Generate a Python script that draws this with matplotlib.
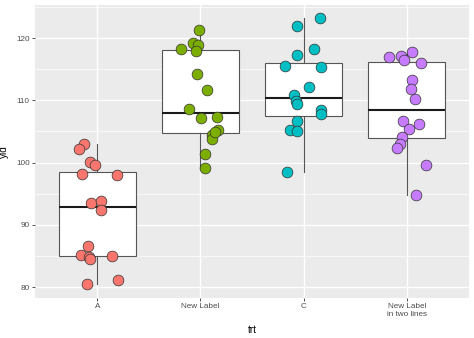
import matplotlib
matplotlib.use("Agg")
import matplotlib.pyplot as plt
from matplotlib.ticker import MultipleLocator

categories = ["A", "New Label", "C", "New Label\nin two lines"]
colors = ["#F8766D", "#7CAE00", "#00BFC4", "#C77CFF"]

yld_a = [102.99, 102.23, 100.1, 99.6, 98.1, 98.06, 93.56, 93.83, 92.33, 86.66,
         85.1, 84.9, 84.5, 84.94, 81.16, 80.45]
jit_a = [-0.126, -0.174, -0.07, -0.022, -0.148, 0.191, -0.058, 0.033, 0.033, -0.087,
         -0.161, -0.077, -0.07, 0.142, 0.2, -0.097]

yld_b = [121.33, 119.2, 118.92, 118.28, 118.0, 114.22, 111.65, 108.65, 107.2, 107.37,
         105.28, 104.37, 103.84, 101.43, 99.13, 104.9]
jit_b = [-0.016, -0.072, -0.019, -0.184, -0.039, -0.033, 0.064, -0.107, 0.01, 0.161,
         0.174, 0.116, 0.109, 0.045, 0.045, 0.14]

yld_c = [123.21, 121.97, 118.28, 117.27, 115.55, 115.28, 112.18, 110.9, 109.82, 109.34,
         108.44, 107.85, 106.68, 105.23, 105.12, 98.43]
jit_c = [0.162, -0.061, 0.097, -0.061, -0.184, 0.165, 0.052, -0.09, -0.074, -0.061,
         0.168, 0.165, -0.061, -0.129, -0.061, -0.161]

yld_d = [117.0, 117.05, 116.52, 117.8, 116.04, 113.26, 111.81, 110.2, 106.73, 106.13,
         105.44, 104.16, 103.03, 102.28, 99.66, 94.74]
jit_d = [-0.172, -0.052, -0.029, 0.051, 0.141, 0.051, 0.045, 0.083, -0.039, 0.122,
         0.019, -0.046, -0.062, -0.094, 0.19, 0.09]

yld = [yld_a, yld_b, yld_c, yld_d]
jit = [jit_a, jit_b, jit_c, jit_d]

plt.rcParams['font.family'] = ['Liberation Sans', 'DejaVu Sans']

fig = plt.figure(figsize=(4.74, 3.38), dpi=100)
ax = fig.add_axes([0.0747, 0.1192, 0.9139, 0.8658])
ax.set_facecolor("#EBEBEB")
for s in ax.spines.values():
    s.set_visible(False)

pos = list(range(1, len(categories) + 1))
ax.boxplot(yld, positions=pos, widths=0.75, showcaps=False, showfliers=False,
           patch_artist=True, whis=1.5,
           boxprops=dict(facecolor="white", edgecolor="#555555", linewidth=0.8),
           whiskerprops=dict(color="#555555", linewidth=0.8),
           medianprops=dict(color="#1A1A1A", linewidth=1.5),
           zorder=2)

for i, (vals, js, col) in enumerate(zip(yld, jit, colors)):
    xs = [pos[i] + j for j in js]
    ax.scatter(xs, vals, s=60, c=col, edgecolors="#333333", linewidths=0.5, zorder=3)

ax.set_xlim(0.4, 4.6)
ax.set_ylim(78.3, 125.3)
ax.set_xticks(pos)
ax.set_xticklabels(categories, ha="center", multialignment="center")
ax.yaxis.set_major_locator(MultipleLocator(10))
ax.yaxis.set_minor_locator(MultipleLocator(5))
ax.grid(which="major", color="white", linewidth=1.0, zorder=0)
ax.grid(which="minor", axis="y", color="white", linewidth=0.5, zorder=0)
ax.set_axisbelow(True)
ax.tick_params(axis="both", which="major", length=2.5, width=0.6, color="#333333",
               labelsize=5.9, labelcolor="#4D4D4D", pad=1.5)
ax.tick_params(axis="y", which="minor", length=0)
ax.set_xlabel("trt", fontsize=7.2, color="black", labelpad=5)
ax.set_ylabel("yld", fontsize=7.2, color="black", labelpad=5)

fig.savefig("out.png", dpi=100)
